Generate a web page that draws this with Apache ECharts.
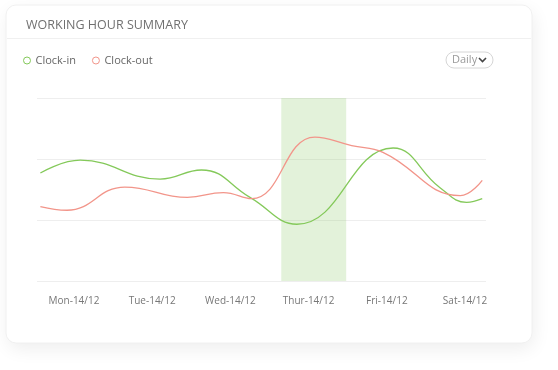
<!DOCTYPE html>
<html><head><meta charset="utf-8">
<script src="https://cdn.jsdelivr.net/npm/echarts@6/dist/echarts.min.js"></script>
<style>html,body{margin:0;padding:0;background:#fff;}#c{width:558px;height:370px;}</style>
</head><body><div id="c"></div>
<script>
const dayLabels = ['Mon-14/12','Tue-14/12','Wed-14/12','Thur-14/12','Fri-14/12','Sat-14/12'];
const legendNames = ['Clock-in','Clock-out'];
// [dayPosition, value]
const clockIn = [[-0.43,177],[0.08,198],[1.10,167],[1.63,182],[2.25,137],[2.85,93],[4.08,218],[4.68,153],[5.02,129],[5.22,135]];
const clockOut = [[-0.43,122],[-0.09,116],[0.65,154],[1.45,137],[1.91,145],[2.27,135],[3.08,236],[3.55,222],[3.95,211],[4.94,140],[5.22,165]];
const highlightRange = [2.65, 3.48];
const titleText = 'WORKING HOUR SUMMARY';
const periodText = 'Daily';

const chart = echarts.init(document.getElementById('c'), null, {renderer:'canvas'});
const font = '"Open Sans", sans-serif';
chart.setOption({
  animation:false,
  textStyle:{fontFamily:font},
  graphic:[
    {type:'rect', z:-10, shape:{x:6,y:5,width:526,height:338,r:10}, style:{fill:'#fff', stroke:'#f0f0f0', lineWidth:1, shadowBlur:18, shadowColor:'rgba(0,0,0,0.07)', shadowOffsetY:6, shadowOffsetX:2}},
    {type:'line', z:-9, shape:{x1:7,y1:38.5,x2:531,y2:38.5}, style:{stroke:'#f0f0f0', lineWidth:1}},
    {type:'rect', shape:{x:446,y:52,width:47,height:16,r:8}, style:{fill:'#fff', stroke:'#d6d6d6', lineWidth:1}},
    {type:'text', style:{x:452,y:60,text:periodText, fill:'#9a9a9a', font:'11px '+font, verticalAlign:'middle'}},
    {type:'polyline', shape:{points:[[479,58],[482.5,61.5],[486,58]]}, style:{stroke:'#444', lineWidth:1.6, fill:null}}
  ],
  title:{text:titleText, left:21, top:14, textStyle:{fontSize:12.5, fontWeight:'normal', color:'#707070', fontFamily:font}},
  legend:{data:legendNames, left:18, top:50, icon:'circle', itemWidth:7, itemHeight:7, itemGap:16,
    textStyle:{fontSize:11, color:'#666', fontFamily:font},
    itemStyle:{color:'#fff', borderWidth:1}},
  grid:{left:37, right:72, top:98, bottom:89},
  xAxis:{type:'value', min:-0.473, max:5.268,
    axisLine:{show:false}, axisTick:{show:false}, splitLine:{show:false},
    axisLabel:{customValues:[0,1,2,3,4,5], formatter:v=>dayLabels[Math.round(v)], color:'#777', fontSize:10, margin:15, fontFamily:font}},
  yAxis:{type:'value', min:0, max:300, interval:100,
    axisLine:{show:false}, axisTick:{show:false}, axisLabel:{show:false},
    splitLine:{lineStyle:{color:'#eeeeee', width:1}}},
  series:[
    {name:legendNames[0], type:'line', data:clockIn, smooth:0.45, showSymbol:false, z:3,
      lineStyle:{color:'#84c95a', width:1.3}, itemStyle:{color:'#84c95a', borderColor:'#84c95a'},
      markArea:{silent:true, itemStyle:{color:'rgba(140,200,100,0.24)'}, data:[[{xAxis:highlightRange[0]},{xAxis:highlightRange[1]}]]}},
    {name:legendNames[1], type:'line', data:clockOut, smooth:0.45, showSymbol:false, z:3,
      lineStyle:{color:'#f2958a', width:1.3}, itemStyle:{color:'#f2958a', borderColor:'#f2958a'}}
  ]
});
</script></body></html>
